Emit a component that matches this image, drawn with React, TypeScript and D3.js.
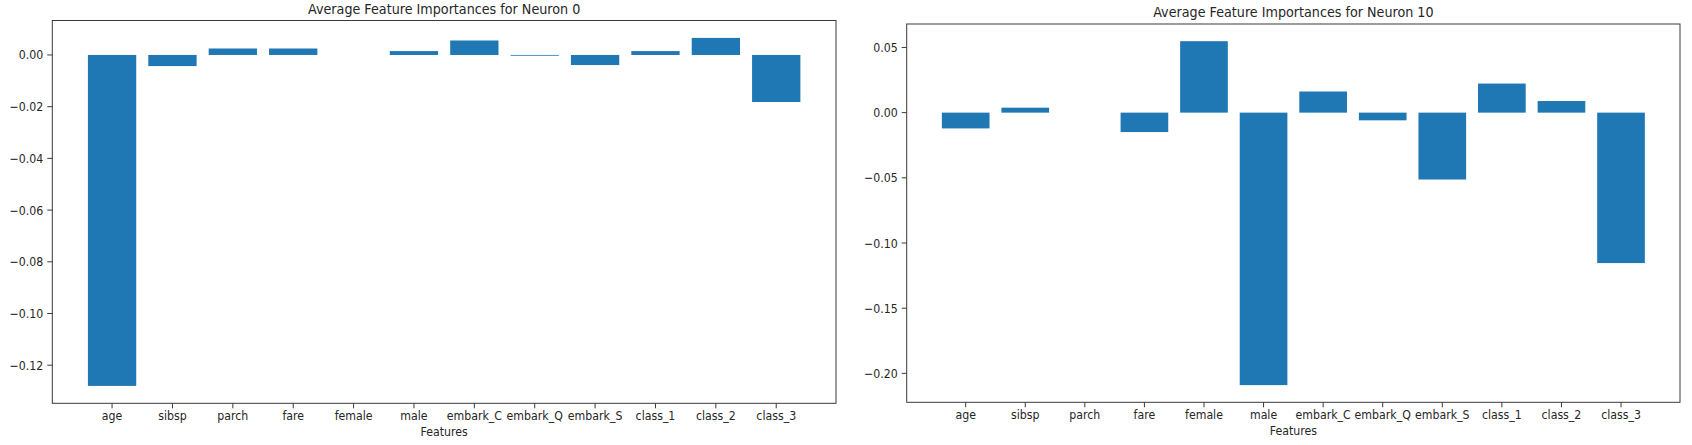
import React from "react";
import * as d3 from "d3";

const categories = ["age", "sibsp", "parch", "fare", "female", "male", "embark_C", "embark_Q", "embark_S", "class_1", "class_2", "class_3"];
const neuron0Values = [-0.128, -0.0043, 0.0025, 0.0025, 0, 0.0015, 0.0056, -0.0003, -0.0039, 0.0015, 0.0066, -0.0182];
const neuron10Values = [-0.0121, 0.0038, 0, -0.0149, 0.0548, -0.209, 0.0162, -0.0059, -0.0513, 0.0223, 0.0089, -0.1154];
const neuron0Ticks = [0, -0.02, -0.04, -0.06, -0.08, -0.1, -0.12];
const neuron10Ticks = [0.05, 0, -0.05, -0.1, -0.15, -0.2];
const titles = ["Average Feature Importances for Neuron 0", "Average Feature Importances for Neuron 10"];
const xLabel = "Features";

const BAR = "#1f77b4";
const AXIS = "#3a3a3a";
const TEXT = "#262626";
const FONT = "'DejaVu Sans', sans-serif";
const SX = 0.88;

type Box = { x0: number; x1: number; y0: number; y1: number };

function fmt(v: number) {
  const s = Math.abs(v).toFixed(2);
  return (v < -1e-9 ? "\u2212" : "") + s;
}

function T({ x, y, anchor, size, children }: { x: number; y: number; anchor: string; size: number; children: any }) {
  return (
    <g transform={`translate(${x},${y}) scale(${SX},1)`}>
      <text x={0} y={0} textAnchor={anchor as any} fontFamily={FONT} fontSize={size} fill={TEXT}>
        {children}
      </text>
    </g>
  );
}

function Panel({ box, values, ticks, title }: { box: Box; values: number[]; ticks: number[]; title: string }) {
  const n = categories.length;
  const x = d3.scaleLinear().domain([-0.4 - 0.05 * (n - 1 + 0.8), n - 1 + 0.4 + 0.05 * (n - 1 + 0.8)]).range([box.x0, box.x1]);
  const mn = Math.min(0, d3.min(values) as number);
  const mx = Math.max(0, d3.max(values) as number);
  const pad = (mx - mn) * 0.05;
  const y = d3.scaleLinear().domain([mn - pad, mx + pad]).range([box.y1, box.y0]);
  const bw = x(0.4) - x(-0.4);
  const cx = (box.x0 + box.x1) / 2;
  return (
    <g>
      {values.map((v, i) => (
        <rect
          key={i}
          x={x(i) - bw / 2}
          width={bw}
          y={Math.min(y(v), y(0))}
          height={Math.max(Math.abs(y(v) - y(0)), 0.0001)}
          fill={BAR}
        />
      ))}
      <rect x={box.x0} y={box.y0} width={box.x1 - box.x0} height={box.y1 - box.y0} fill="none" stroke={AXIS} strokeWidth={1} />
      {ticks.map((t) => (
        <g key={t}>
          <line x1={box.x0 - 5} x2={box.x0} y1={y(t)} y2={y(t)} stroke={AXIS} strokeWidth={1} />
          <T x={box.x0 - 9} y={y(t) + 4.5} anchor="end" size={12.5}>{fmt(t)}</T>
        </g>
      ))}
      {categories.map((c, i) => (
        <g key={c}>
          <line x1={x(i)} x2={x(i)} y1={box.y1} y2={box.y1 + 5} stroke={AXIS} strokeWidth={1} />
          <T x={x(i)} y={box.y1 + 17} anchor="middle" size={12.5}>{c}</T>
        </g>
      ))}
      <T x={cx} y={box.y1 + 33} anchor="middle" size={12.5}>{xLabel}</T>
      <T x={cx} y={box.y0 - 7} anchor="middle" size={14.5}>{title}</T>
    </g>
  );
}

export default function App() {
  const left: Box = { x0: 52.3, x1: 836, y0: 20.5, y1: 403.3 };
  const right: Box = { x0: 906.7, x1: 1680, y0: 24, y1: 402.3 };
  return (
    <svg width={1692} height={445} style={{ position: "absolute", left: 0, top: 0, background: "#fff" }}>
      <rect width={1692} height={445} fill="#fff" />
      <Panel box={left} values={neuron0Values} ticks={neuron0Ticks} title={titles[0]} />
      <Panel box={right} values={neuron10Values} ticks={neuron10Ticks} title={titles[1]} />
    </svg>
  );
}
